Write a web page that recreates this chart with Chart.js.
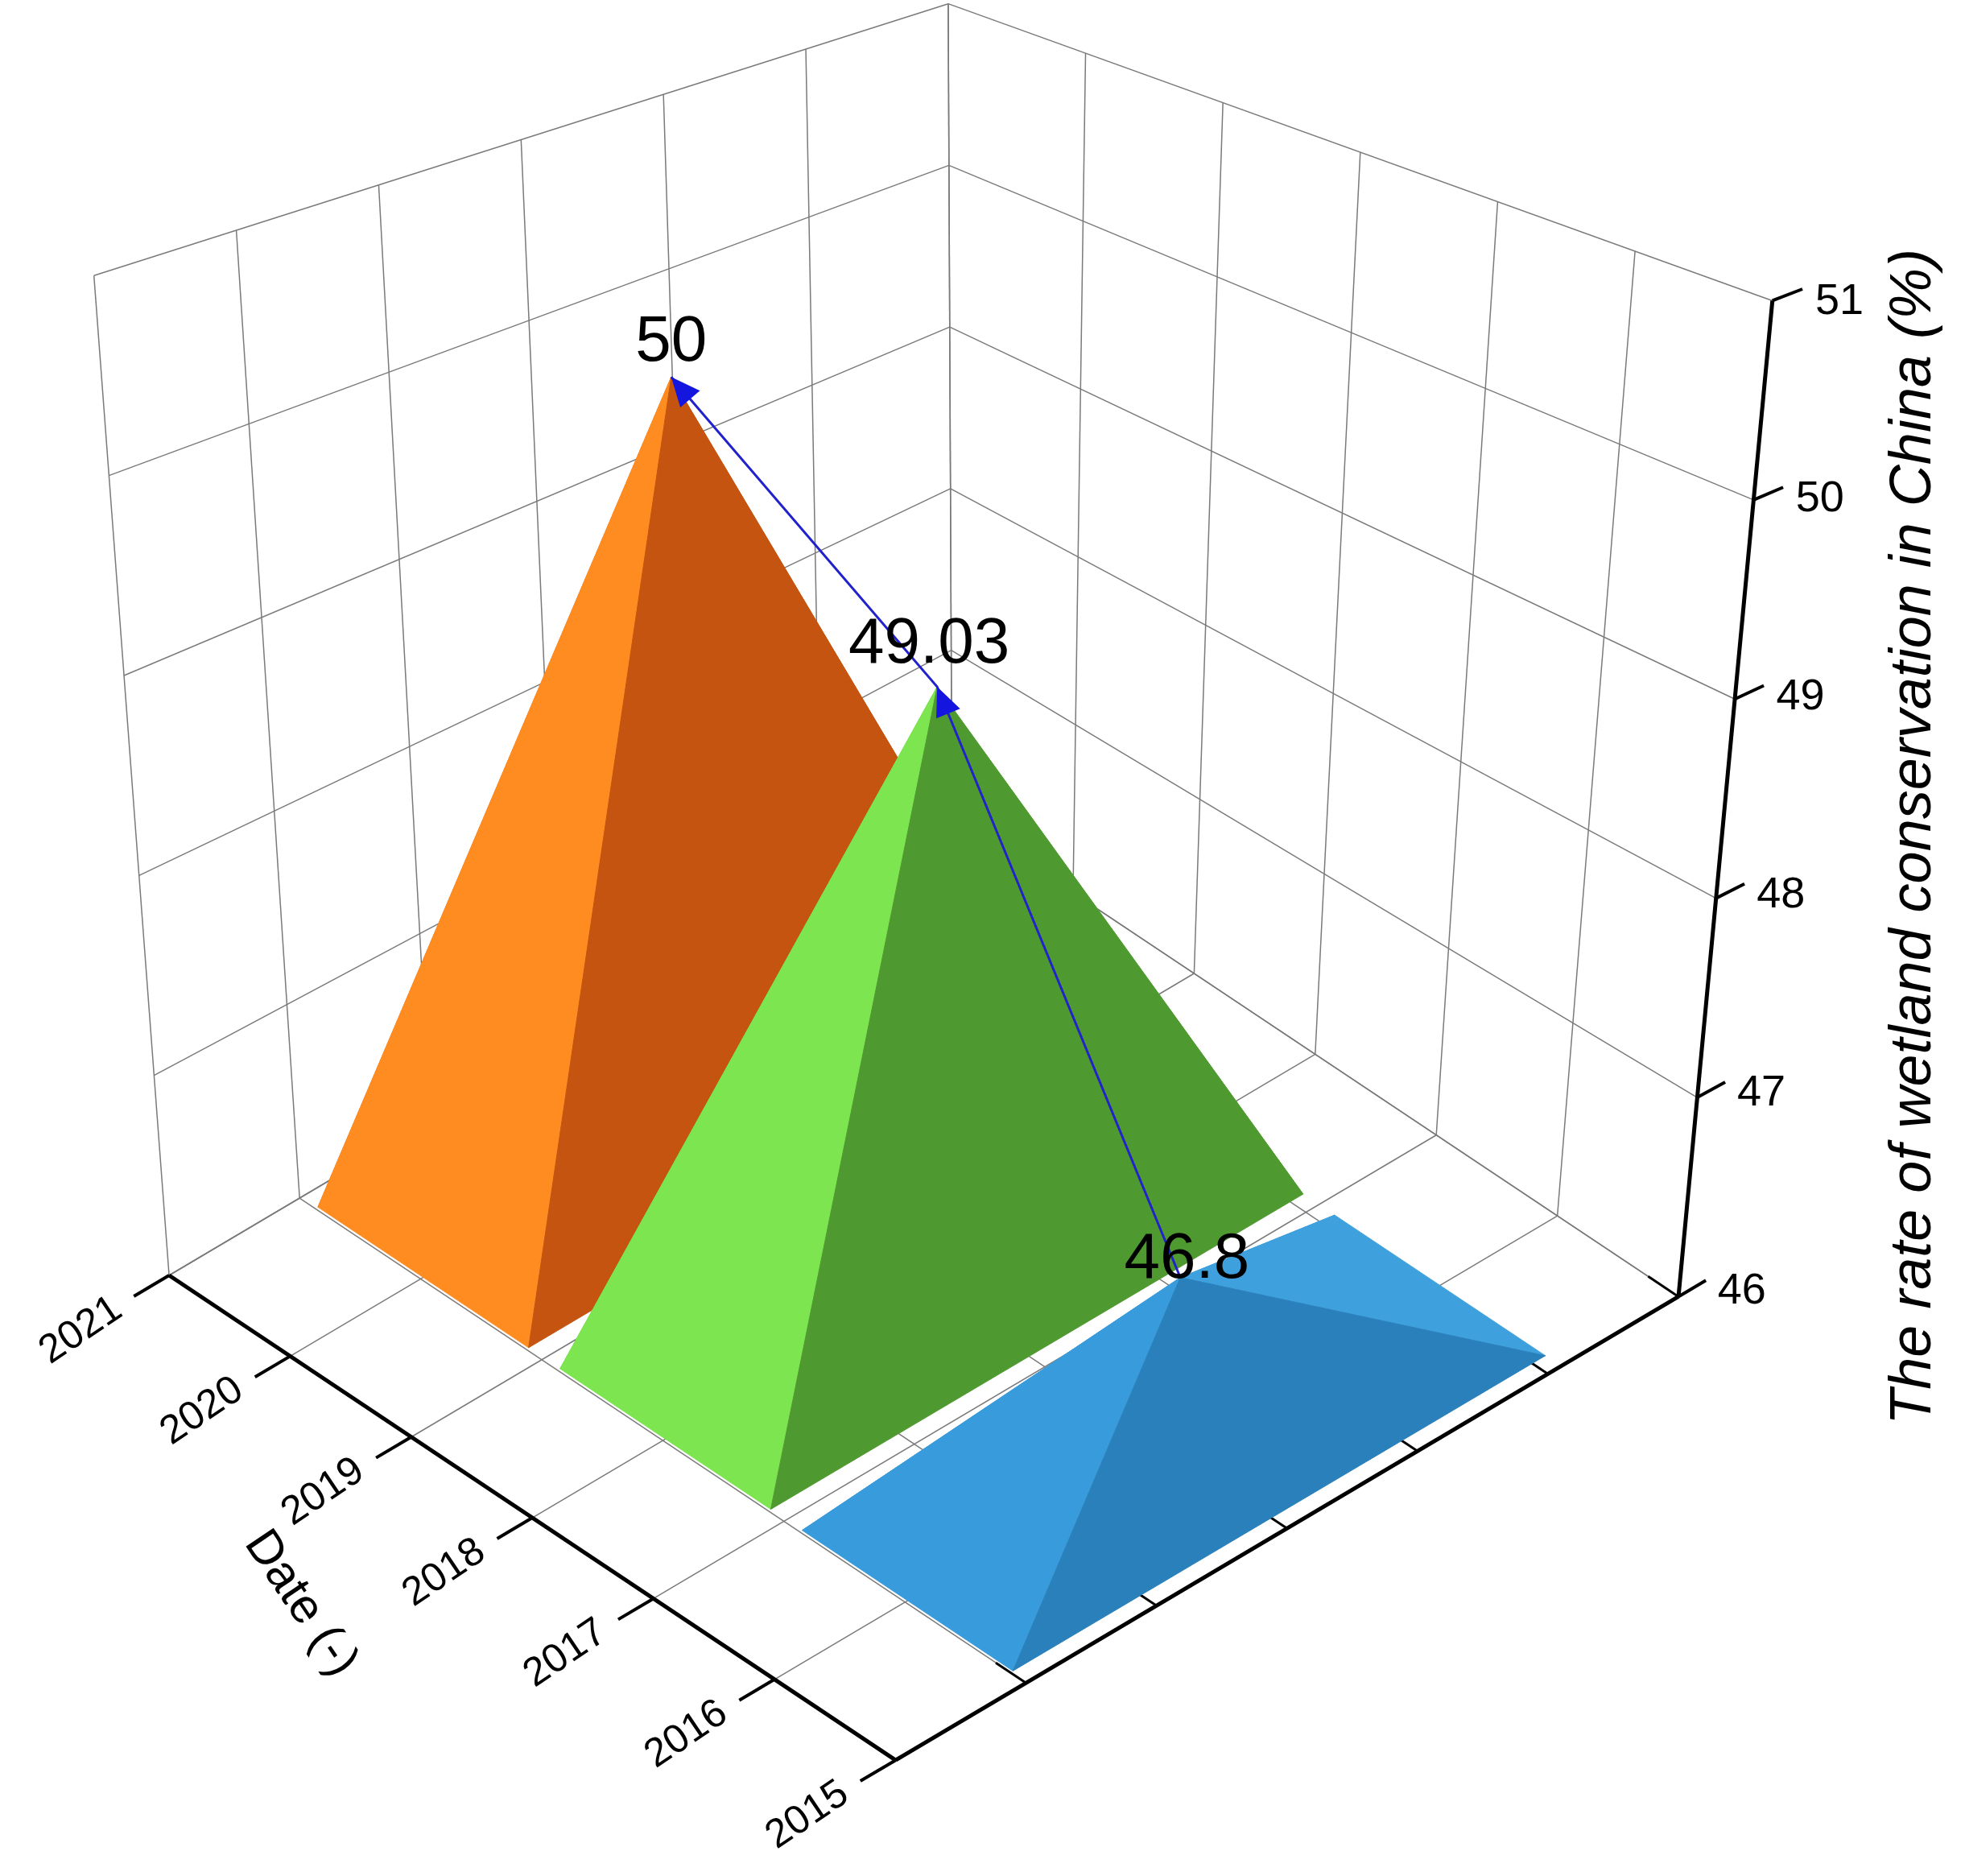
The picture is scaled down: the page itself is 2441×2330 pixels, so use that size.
<!DOCTYPE html>
<html>
<head>
<meta charset="utf-8">
<script src="https://cdn.jsdelivr.net/npm/chart.js@4.4.0/dist/chart.umd.min.js"></script>
<style>
  body { margin: 0; background: #fff; }
  #wrap { width: 2441px; height: 2330px; }
</style>
</head>
<body>
<div id="wrap"><canvas id="chart"></canvas></div>
<script>
// data
const years = [2016, 2018, 2020];
const rates = [46.8, 49.03, 50];
const yearTicks = [2015, 2016, 2017, 2018, 2019, 2020, 2021];
const rateTicks = [46, 47, 48, 49, 50, 51];
const lightColors = ['#389BDB', '#7DE550', '#FF8C21'];
const darkColors = ['#2A80BA', '#4F9A30', '#C4540F'];
const backColors = ['#3FA0DE', '#6CCF44', '#E0701A'];

// simple 3D box projection (year, depth 0..1, rate) -> page units
const S = 1.556;
const O = [715, 1405], D = [-580, -387], W = [625, -370];
const V00 = [15, -900], V60 = [-60, -798], V01 = [75, -795], V61 = [-3, -645];
function P(year, w, rate) {
  const a = (year - 2015) / 6, b = w, z = (rate - 46) / 5;
  const fx = O[0] + a * D[0] + b * W[0], fy = O[1] + a * D[1] + b * W[1];
  const vx = (1-a)*(1-b)*V00[0] + a*(1-b)*V60[0] + (1-a)*b*V01[0] + a*b*V61[0];
  const vy = (1-a)*(1-b)*V00[1] + a*(1-b)*V60[1] + (1-a)*b*V01[1] + a*b*V61[1];
  return { x: (fx + z * vx) * S, y: (fy + z * vy) * S };
}

const datasets = [];
function seg(p, q, color, width) {
  datasets.push({ data: [p, q], showLine: true, borderColor: color, borderWidth: width,
    pointRadius: 0, fill: false });
}
function poly(pts, color) {
  datasets.push({ data: pts.concat([pts[0]]), showLine: true, borderColor: color,
    borderWidth: 1, backgroundColor: color, pointRadius: 0, fill: 'shape' });
}

const gridC = '#7a7a7a';
const wSteps = [0, 1/6, 2/6, 3/6, 4/6, 5/6, 1];
// floor
yearTicks.forEach(y => seg(P(y, 0, 46), P(y, 1, 46), gridC, 1.5));
wSteps.forEach(w => seg(P(2015, w, 46), P(2021, w, 46), gridC, 1.5));
// left wall (year 2021)
wSteps.forEach(w => seg(P(2021, w, 46), P(2021, w, 51), gridC, 1.5));
rateTicks.forEach(r => seg(P(2021, 0, r), P(2021, 1, r), gridC, 1.5));
// right wall (depth 1)
yearTicks.forEach(y => seg(P(y, 1, 46), P(y, 1, 51), gridC, 1.5));
rateTicks.forEach(r => seg(P(2015, 1, r), P(2021, 1, r), gridC, 1.5));

// axes
seg(P(2015, 0, 46), P(2021, 0, 46), '#000', 5);
seg(P(2015, 0, 46), P(2015, 1, 46), '#000', 5);
seg(P(2015, 1, 46), P(2015, 1, 51), '#000', 5);
yearTicks.forEach(y => seg(P(y, 0, 46), P(y, -0.045, 46), '#000', 4));
wSteps.forEach(w => seg(P(2015, w, 46), P(2015.25, w, 46), '#000', 3));
rateTicks.forEach(r => seg(P(2015, 1, r), P(2015, 1.035, r), '#000', 4));

// pyramids, back to front
const halfW = 0.87, w0 = 0.17, w1 = 0.85, wp = 0.51;
[2, 1, 0].forEach(i => {
  const y = years[i];
  const A = P(y + halfW, w0, 46), B = P(y - halfW, w0, 46);
  const C = P(y - halfW, w1, 46), Dd = P(y + halfW, w1, 46);
  const T = P(y, wp, rates[i]);
  poly([C, Dd, T], backColors[i]);
  poly([Dd, A, T], backColors[i]);
  poly([A, B, T], lightColors[i]);
  poly([B, C, T], darkColors[i]);
});

// trend arrow
const arrowPts = [0, 1, 2].map(i => P(years[i], wp, rates[i]));
datasets.push({ data: arrowPts, showLine: true, borderColor: '#2222CC', borderWidth: 3,
  pointRadius: 0, fill: false });
const arrowIndex = datasets.length - 1;

datasets.forEach((d, i) => { d.order = -i; });

const textPlugin = {
  id: 'texts',
  afterDraw(chart) {
    const ctx = chart.ctx;
    const xs = chart.scales.x, ys = chart.scales.y;
    const px = p => [xs.getPixelForValue(p.x), ys.getPixelForValue(p.y)];
    ctx.save();
    // arrow heads
    const pts = chart.getDatasetMeta(arrowIndex).data;
    for (let i = 1; i < pts.length; i++) {
      const a = pts[i - 1], b = pts[i];
      const ang = Math.atan2(b.y - a.y, b.x - a.x);
      ctx.save();
      ctx.translate(b.x, b.y);
      ctx.rotate(ang);
      ctx.fillStyle = '#1515E0';
      ctx.beginPath();
      ctx.moveTo(0, 0); ctx.lineTo(-36, -16); ctx.lineTo(-36, 16); ctx.closePath();
      ctx.fill();
      ctx.restore();
    }
    // value labels
    ctx.fillStyle = '#000';
    ctx.font = '80px Arial, "Liberation Sans", sans-serif';
    ctx.textAlign = 'center';
    ctx.textBaseline = 'bottom';
    const offs = [[8, 18], [-10, -12], [0, -2]];
    rates.forEach((r, i) => {
      const [x, y] = px(P(years[i], wp, r));
      ctx.fillText(String(r), x + offs[i][0], y + offs[i][1]);
    });
    // year tick labels
    ctx.font = '50px Arial, "Liberation Sans", sans-serif';
    yearTicks.forEach(y => {
      const [x, yy] = px(P(y, -0.065, 46));
      ctx.save();
      ctx.translate(x, yy);
      ctx.rotate(-34 * Math.PI / 180);
      ctx.textAlign = 'right';
      ctx.textBaseline = 'middle';
      ctx.fillText(String(y), 0, 0);
      ctx.restore();
    });
    // rate tick labels
    ctx.font = '54px Arial, "Liberation Sans", sans-serif';
    rateTicks.forEach(r => {
      const [x, yy] = px(P(2015, 1.05, r));
      ctx.textAlign = 'left';
      ctx.textBaseline = 'middle';
      ctx.fillText(String(r), x, yy + 22);
    });
    // axis titles
    ctx.font = '60px Arial, "Liberation Sans", sans-serif';
    ctx.save();
    ctx.translate(240 * S, 1280 * S);
    ctx.rotate(56 * Math.PI / 180);
    ctx.textAlign = 'center';
    ctx.textBaseline = 'middle';
    ctx.fillText('Date (-)', 0, 0);
    ctx.restore();
    ctx.font = 'italic 72px Arial, "Liberation Sans", sans-serif';
    ctx.save();
    ctx.translate(1528 * S, 668 * S);
    ctx.rotate(-Math.PI / 2);
    ctx.textAlign = 'center';
    ctx.textBaseline = 'middle';
    ctx.fillText('The rate of wetland conservation in China (%)', 0, 0);
    ctx.restore();
    ctx.restore();
  }
};

new Chart(document.getElementById('chart'), {
  type: 'scatter',
  data: { datasets: datasets },
  options: {
    responsive: true,
    maintainAspectRatio: false,
    animation: false,
    layout: { padding: 0 },
    elements: { line: { tension: 0 } },
    plugins: { legend: { display: false }, tooltip: { enabled: false } },
    scales: {
      x: { type: 'linear', min: 0, max: 2441, display: false },
      y: { type: 'linear', min: 0, max: 2330, reverse: true, display: false }
    }
  },
  plugins: [textPlugin]
});
</script>
</body>
</html>
